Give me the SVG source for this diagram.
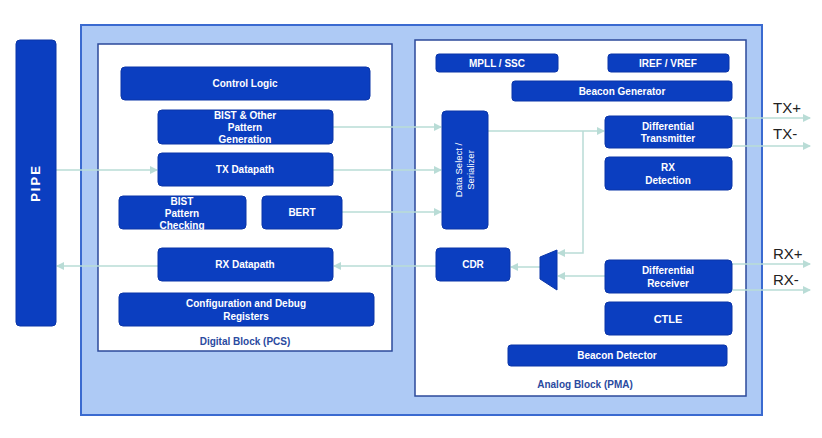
<svg xmlns="http://www.w3.org/2000/svg" width="822" height="438" viewBox="0 0 822 438">
<style>
.n{fill:#0b3ec0;stroke:#0a35a8;stroke-width:1}
.t{fill:#fff;font-family:"Liberation Sans",sans-serif;font-weight:bold;font-size:10px;text-anchor:middle}
.c{stroke:#b9dcd6;stroke-width:1.5;fill:none}
.lb{fill:#2a4aa0;font-family:"Liberation Sans",sans-serif;font-weight:bold;font-size:10px;text-anchor:middle}
.io{fill:#222;font-family:"Liberation Sans",sans-serif;font-size:15px}
</style>
<defs><marker id="a" markerWidth="8" markerHeight="8" refX="7" refY="4" orient="auto" markerUnits="userSpaceOnUse"><path d="M0,0 L8,4 L0,8 Z" fill="#b9dcd6"/></marker></defs>
<rect width="822" height="438" fill="#fff"/>
<rect x="81" y="25" width="681" height="390" fill="#aecaf5" stroke="#3a6ad0" stroke-width="2"/>
<rect x="98" y="44" width="294" height="307" fill="#fff" stroke="#2c4a9a" stroke-width="1.5"/>
<rect x="415" y="40" width="331" height="356" fill="#fff" stroke="#2c4a9a" stroke-width="1.5"/>
<text class="lb" x="245" y="345">Digital Block (PCS)</text>
<text class="lb" x="585" y="388">Analog Block (PMA)</text>
<g id="connectors">
<line class="c" x1="56" y1="170" x2="157" y2="170" marker-end="url(#a)"/>
<line class="c" x1="333" y1="127" x2="441" y2="127" marker-end="url(#a)"/>
<line class="c" x1="333" y1="170" x2="441" y2="170" marker-end="url(#a)"/>
<line class="c" x1="342" y1="212" x2="441" y2="212" marker-end="url(#a)"/>
<line class="c" x1="488" y1="131" x2="604" y2="131" marker-end="url(#a)"/>
<polyline class="c" points="583,131 583,253 558,253" marker-end="url(#a)"/>
<line class="c" x1="605" y1="276" x2="558" y2="276" marker-end="url(#a)"/>
<line class="c" x1="540" y1="267" x2="511" y2="267" marker-end="url(#a)"/>
<line class="c" x1="436" y1="266" x2="334" y2="266" marker-end="url(#a)"/>
<line class="c" x1="158" y1="266" x2="57" y2="266" marker-end="url(#a)"/>
<line class="c" x1="732" y1="118" x2="810" y2="118" marker-end="url(#a)"/>
<line class="c" x1="732" y1="146" x2="810" y2="146" marker-end="url(#a)"/>
<line class="c" x1="732" y1="264" x2="810" y2="264" marker-end="url(#a)"/>
<line class="c" x1="732" y1="290" x2="810" y2="290" marker-end="url(#a)"/>
</g>
<text class="io" x="773" y="113">TX+</text>
<text class="io" x="773" y="139">TX-</text>
<text class="io" x="773" y="259">RX+</text>
<text class="io" x="773" y="285">RX-</text>
<g id="pipe"><rect class="n" x="16" y="40" width="40" height="286" rx="4"/><text class="t" transform="translate(40,183) rotate(-90)" style="font-size:13px;letter-spacing:2px">PIPE</text></g>
<g id="control"><rect class="n" x="121" y="67" width="249" height="33" rx="4"/><text class="t" x="245" y="87">Control Logic</text></g>
<g id="bistgen"><rect class="n" x="158" y="110" width="175" height="34" rx="4"/><text class="t" x="245" y="119">BIST &amp; Other</text><text class="t" x="245" y="131">Pattern</text><text class="t" x="245" y="143">Generation</text></g>
<g id="txdp"><rect class="n" x="158" y="153" width="175" height="33" rx="4"/><text class="t" x="245" y="173">TX Datapath</text></g>
<g id="bistchk"><rect class="n" x="119" y="196" width="127" height="33" rx="4"/><text class="t" x="182" y="205">BIST</text><text class="t" x="182" y="217">Pattern</text><text class="t" x="182" y="229">Checking</text></g>
<g id="bert"><rect class="n" x="262" y="196" width="80" height="33" rx="4"/><text class="t" x="302" y="216">BERT</text></g>
<g id="rxdp"><rect class="n" x="158" y="248" width="175" height="33" rx="4"/><text class="t" x="245" y="268">RX Datapath</text></g>
<g id="config"><rect class="n" x="119" y="293" width="255" height="33" rx="4"/><text class="t" x="246" y="307">Configuration and Debug</text><text class="t" x="246" y="320">Registers</text></g>
<g id="mpll"><rect class="n" x="436" y="54" width="122" height="18" rx="3"/><text class="t" x="497" y="67">MPLL / SSC</text></g>
<g id="iref"><rect class="n" x="608" y="54" width="121" height="18" rx="3"/><text class="t" x="668" y="67">IREF / VREF</text></g>
<g id="beacongen"><rect class="n" x="512" y="81" width="220" height="20" rx="3"/><text class="t" x="622" y="95">Beacon Generator</text></g>
<g id="ser"><rect class="n" x="442" y="111" width="46" height="118" rx="4"/><text class="t" transform="translate(462,170) rotate(-90)" style="font-weight:normal;font-size:9.5px">Data Select /</text><text class="t" transform="translate(474,170) rotate(-90)" style="font-weight:normal;font-size:9.5px">Serializer</text></g>
<g id="difftx"><rect class="n" x="605" y="116" width="127" height="32" rx="4"/><text class="t" x="668" y="130">Differential</text><text class="t" x="668" y="142">Transmitter</text></g>
<g id="rxdet"><rect class="n" x="605" y="157" width="127" height="33" rx="4"/><text class="t" x="668" y="171">RX</text><text class="t" x="668" y="184">Detection</text></g>
<g id="cdr"><rect class="n" x="436" y="248" width="74" height="33" rx="4"/><text class="t" x="473" y="268">CDR</text></g>
<g id="mux"><polygon class="n" points="540,257 557,250 557,290 540,279"/></g>
<g id="diffrx"><rect class="n" x="605" y="260" width="127" height="33" rx="4"/><text class="t" x="668" y="274">Differential</text><text class="t" x="668" y="287">Receiver</text></g>
<g id="ctle"><rect class="n" x="605" y="302" width="127" height="33" rx="4"/><text class="t" x="668" y="323" style="font-size:11px">CTLE</text></g>
<g id="beacondet"><rect class="n" x="508" y="345" width="219" height="21" rx="3"/><text class="t" x="617" y="359">Beacon Detector</text></g>
</svg>
